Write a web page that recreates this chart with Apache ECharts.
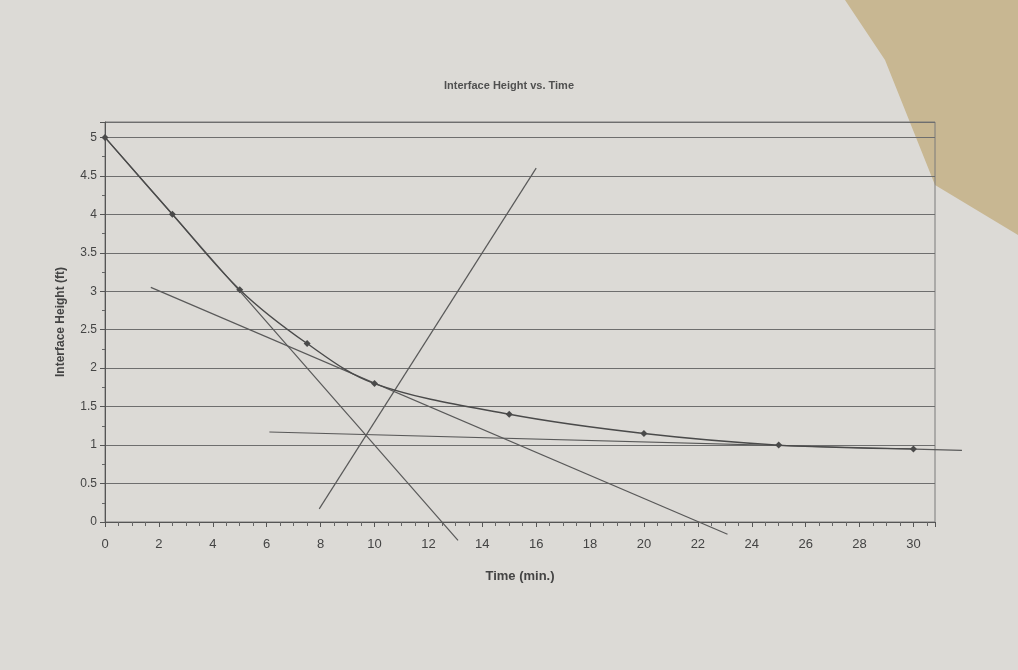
<!DOCTYPE html>
<html>
<head>
<meta charset="utf-8">
<title>Interface Height vs. Time</title>
<script src="https://cdn.jsdelivr.net/npm/echarts@6/dist/echarts.min.js"></script>
<style>
  html, body {
    margin: 0;
    padding: 0;
    background-color: #dcdad6;
  }
  .height-chart {
    width: 1018px;
    height: 670px;
  }
</style>
</head>
<body>
<div class="height-chart" id="main"></div>
<script>
// measured points (time in min, interface height in ft)
const times = [0, 2.5, 5, 7.5, 10, 15, 20, 25, 30]
const heights = [5, 4, 3.02, 2.32, 1.8, 1.4, 1.15, 1.0, 0.95]

// pencil lines drawn on the printout, start/end points
const lineAX = [0, 13.1]
const lineAY = [5, -0.24]
const lineBX = [1.7, 23.1]
const lineBY = [3.05, -0.16]
const lineCX = [7.95, 16.0]
const lineCY = [0.17, 4.6]
const lineHX = [6.1, 31.8]
const lineHY = [1.17, 0.93]

// tick labels
const xTickLabels = [0, 2, 4, 6, 8, 10, 12, 14, 16, 18, 20, 22, 24, 26, 28, 30]
const yTickLabels = [0, 0.5, 1, 1.5, 2, 2.5, 3, 3.5, 4, 4.5, 5]

const pairs = (xs, ys) => xs.map((x, i) => [x, ys[i]])

const chartInstance = echarts.init(document.getElementById('main'))

// pencil lines go a bit past the axes, so draw them as custom segments (no clipping)
const pencil = (name, xs, ys) => ({
  name: name,
  type: 'custom',
  clip: false,
  silent: true,
  data: [[xs[0], ys[0], xs[1], ys[1]]],
  encode: { x: [0, 2], y: [1, 3] },
  renderItem: (params, api) => {
    const p1 = api.coord([api.value(0), api.value(1)])
    const p2 = api.coord([api.value(2), api.value(3)])
    return {
      type: 'line',
      shape: { x1: p1[0], y1: p1[1], x2: p2[0], y2: p2[1] },
      style: { stroke: '#595959', lineWidth: 1.2 }
    }
  },
  z: 3
})

const option = {
  backgroundColor: '#dcdad6',
  textStyle: { fontFamily: 'Liberation Sans' },
  title: {
    text: 'Interface Height vs. Time',
    left: 'center',
    top: 75,
    textStyle: { fontSize: 11, fontWeight: 'bold', color: '#505050' }
  },
  graphic: [
    {
      // desk showing in the corner
      type: 'polygon',
      shape: { points: [[845, 0], [1018, 0], [1018, 235], [935, 185], [885, 60]] },
      style: { fill: '#c8b792' },
      z: -1
    }
  ],
  grid: {
    left: 105,
    right: 83,
    top: 122,
    bottom: 148,
    show: true,
    borderColor: '#7a7a7a',
    borderWidth: 1
  },
  xAxis: {
    type: 'value',
    min: 0,
    max: 30.8,
    interval: 2,
    name: 'Time (min.)',
    nameLocation: 'middle',
    nameGap: 48,
    nameTextStyle: { fontSize: 13, fontWeight: 'bold', color: '#444' },
    axisLine: { lineStyle: { color: '#555' } },
    axisTick: { show: true, length: 5, lineStyle: { color: '#555' } },
    minorTick: { show: true, splitNumber: 4, length: 4, lineStyle: { color: '#666' } },
    axisLabel: {
      color: '#444',
      fontSize: 13,
      margin: 16,
      formatter: v => (xTickLabels.indexOf(v) >= 0 ? String(v) : '')
    },
    splitLine: { show: false }
  },
  yAxis: {
    type: 'value',
    min: 0,
    max: 5.2,
    interval: 0.5,
    name: 'Interface Height (ft)',
    nameLocation: 'middle',
    nameGap: 38,
    nameTextStyle: { fontSize: 12, fontWeight: 'bold', color: '#444' },
    axisLine: { show: true, lineStyle: { color: '#555' } },
    axisTick: { show: true, length: 5, lineStyle: { color: '#555' } },
    minorTick: { show: true, splitNumber: 2, length: 3, lineStyle: { color: '#666' } },
    axisLabel: {
      color: '#444',
      fontSize: 12,
      formatter: v => (yTickLabels.indexOf(v) >= 0 ? String(v) : '')
    },
    splitLine: { show: true, lineStyle: { color: '#6e6e6e', width: 1 } }
  },
  series: [
    {
      name: 'Interface Height',
      type: 'line',
      data: pairs(times, heights),
      smooth: 0.35,
      symbol: 'diamond',
      symbolSize: 7,
      itemStyle: { color: '#4a4a4a' },
      lineStyle: { color: '#4a4a4a', width: 1.4 },
      z: 4
    },
    pencil('A', lineAX, lineAY),
    pencil('B', lineBX, lineBY),
    pencil('C', lineCX, lineCY),
    pencil('H', lineHX, lineHY)
  ]
}

chartInstance.setOption(option)
</script>
</body>
</html>
